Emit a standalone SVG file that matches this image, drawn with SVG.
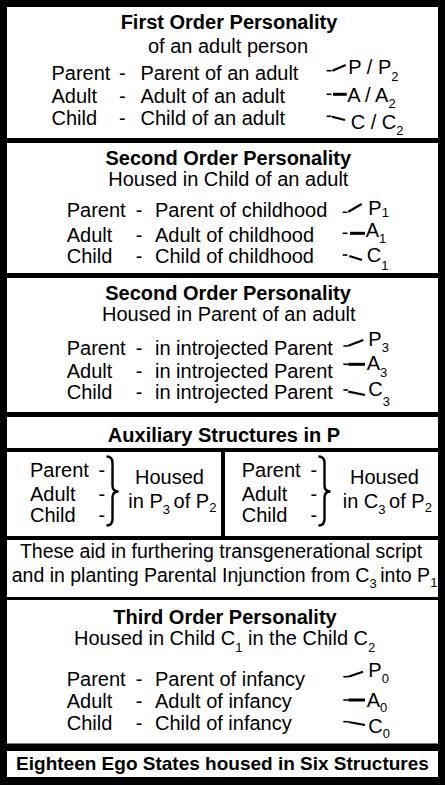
<svg xmlns="http://www.w3.org/2000/svg" width="445" height="785" viewBox="0 0 445 785">
<style>
text{font-family:"Liberation Sans",Arial,sans-serif;font-size:20px;fill:#000}
.b{font-weight:bold}
.m{text-anchor:middle}
.s{font-size:13px}
.box{fill:#fff}
.d{stroke:#000;stroke-width:1.6;fill:none}
.sl{stroke:#000;stroke-width:2.2;fill:none}
.th{stroke:#000;stroke-width:3;fill:none}
.br{stroke:#000;stroke-width:2.4;fill:none}
</style>
<rect x="0" y="0" width="445" height="785" fill="#000"/>

<g id="first-order">
<rect class="box" x="7" y="7" width="431" height="131"/>
<text class="b m" x="229" y="29">First Order Personality</text>
<text class="m" x="228" y="53">of an adult person</text>
<text x="51.5" y="80">Parent</text><text x="119" y="80">-</text><text x="140.5" y="80">Parent of an adult</text>
<text x="51.5" y="102.5">Adult</text><text x="119" y="102.5">-</text><text x="140.5" y="102.5">Adult of an adult</text>
<text x="51.5" y="124.5">Child</text><text x="119" y="124.5">-</text><text x="140.5" y="124.5">Child of an adult</text>
<g id="first-order-pointers">
<line class="d" x1="326.7" y1="70.7" x2="331.5" y2="70.7"/><line class="sl" x1="332.3" y1="70.7" x2="345.7" y2="65"/>
<line class="d" x1="326.7" y1="94.3" x2="331.5" y2="94.3"/><line class="th" x1="333" y1="94.3" x2="346.7" y2="94.3"/>
<line class="d" x1="326.7" y1="116.3" x2="331.5" y2="116.3"/><line class="sl" x1="332" y1="116.7" x2="345" y2="120"/>
</g>
<text x="348.3" y="74">P / P<tspan class="s" dy="7">2</tspan></text>
<text x="347.3" y="102">A / A<tspan class="s" dy="6">2</tspan></text>
<text x="350.7" y="128.5">C / C<tspan class="s" dy="6">2</tspan></text>
</g>

<g id="second-order-child">
<rect class="box" x="7" y="143" width="431" height="130"/>
<text class="b m" x="228.3" y="165">Second Order Personality</text>
<text class="m" x="228.3" y="186">Housed in Child of an adult</text>
<text x="66.7" y="217.3">Parent</text><text x="135.7" y="217.3">-</text><text x="155" y="217.3">Parent of childhood</text>
<text x="66.7" y="241.5">Adult</text><text x="135.7" y="241.5">-</text><text x="155" y="241.5">Adult of childhood</text>
<text x="66.7" y="263.3">Child</text><text x="135.7" y="263.3">-</text><text x="155" y="263.3">Child of childhood</text>
<g id="second-order-child-pointers">
<line class="d" x1="342.7" y1="212.3" x2="347.5" y2="212.3"/><line class="sl" x1="348.3" y1="211.7" x2="361.7" y2="204"/>
<line class="d" x1="342.7" y1="233.3" x2="347.5" y2="233.3"/><line class="th" x1="350" y1="233.3" x2="365" y2="233.3"/>
<line class="d" x1="342.7" y1="255" x2="347.5" y2="255"/><line class="sl" x1="349.3" y1="256" x2="362" y2="260"/>
</g>
<text x="368.3" y="215">P<tspan class="s" dy="2">1</tspan></text>
<text x="365.7" y="237.3">A<tspan class="s" dy="6">1</tspan></text>
<text x="366.7" y="261.7">C<tspan class="s" dy="8">1</tspan></text>
</g>

<g id="second-order-parent">
<rect class="box" x="7" y="278" width="431" height="134"/>
<text class="b m" x="228" y="300">Second Order Personality</text>
<text class="m" x="228.8" y="320.7">Housed in Parent of an adult</text>
<text x="66.7" y="355">Parent</text><text x="135.7" y="355">-</text><text x="155" y="355">in introjected Parent</text>
<text x="66.7" y="377.7">Adult</text><text x="135.7" y="377.7">-</text><text x="155" y="377.7">in introjected Parent</text>
<text x="66.7" y="399.3">Child</text><text x="135.7" y="399.3">-</text><text x="155" y="399.3">in introjected Parent</text>
<g id="second-order-parent-pointers">
<line class="d" x1="343.3" y1="346" x2="348" y2="346"/><line class="sl" x1="348.3" y1="345.7" x2="363.3" y2="340"/>
<line class="d" x1="343.3" y1="364.3" x2="348" y2="364.3"/><line class="th" x1="348.3" y1="364.3" x2="365" y2="364.3"/>
<line class="d" x1="343.3" y1="390" x2="348" y2="390"/><line class="sl" x1="348.3" y1="391.7" x2="365" y2="395"/>
</g>
<text x="368.3" y="346">P<tspan class="s" dy="6">3</tspan></text>
<text x="366.7" y="370">A<tspan class="s" dy="7">3</tspan></text>
<text x="368.3" y="395.7">C<tspan class="s" dy="10">3</tspan></text>
</g>

<g id="auxiliary-header">
<rect class="box" x="7" y="417" width="431" height="31"/>
<text class="b m" x="224" y="441.7">Auxiliary Structures in P</text>
</g>

<g id="auxiliary-p3">
<rect class="box" x="7" y="452" width="214" height="84"/>
<text x="30" y="477.3">Parent</text><text x="98.5" y="477.3">-</text>
<text x="30" y="500.5">Adult</text><text x="98.5" y="500.5">-</text>
<text x="30" y="522.3">Child</text><text x="98.5" y="522.3">-</text>
<path class="br" d="M106.5,456.5 Q112.5,456.5 112.5,463 L112.5,485.5 Q112.5,491.5 118.5,491.5 Q112.5,491.5 112.5,497.5 L112.5,519 Q112.5,525.5 106.5,525.5"/>
<text x="135" y="484.3">Housed</text>
<text x="128.3" y="507.7">in P<tspan class="s" dy="6.5">3 </tspan><tspan dy="-6.5">of P</tspan><tspan class="s" dy="4">2</tspan></text>
</g>

<g id="auxiliary-c3">
<rect class="box" x="225" y="452" width="213" height="84"/>
<text x="241.7" y="477.3">Parent</text><text x="310.5" y="477.3">-</text>
<text x="241.7" y="500.5">Adult</text><text x="310.5" y="500.5">-</text>
<text x="241.7" y="522.3">Child</text><text x="310.5" y="522.3">-</text>
<path class="br" d="M318.5,456.5 Q324.5,456.5 324.5,463 L324.5,485.5 Q324.5,491.5 330.5,491.5 Q324.5,491.5 324.5,497.5 L324.5,519 Q324.5,525.5 318.5,525.5"/>
<text x="350" y="484.3">Housed</text>
<text x="342.7" y="507.7">in C<tspan class="s" dy="6.5">3 </tspan><tspan dy="-6.5">of P</tspan><tspan class="s" dy="4">2</tspan></text>
</g>

<g id="auxiliary-note">
<rect class="box" x="7" y="540" width="431" height="57"/>
<text class="m" x="221" y="558.3" style="font-size:19.5px">These aid in furthering transgenerational script</text>
<text x="11.7" y="581.7" style="font-size:19.5px">and in planting Parental Injunction from C<tspan class="s" dy="6">3 </tspan><tspan dy="-6">into P</tspan><tspan class="s" dy="5">1</tspan></text>
</g>

<g id="third-order">
<rect class="box" x="7" y="600" width="431" height="143.5"/>
<text class="b m" x="225" y="624.3">Third Order Personality</text>
<text x="74" y="645">Housed in Child C<tspan class="s" dy="7">1</tspan><tspan dy="-7"> in the Child C</tspan><tspan class="s" dy="7">2</tspan></text>
<text x="66.7" y="685.7">Parent</text><text x="135.7" y="685.7">-</text><text x="155" y="685.7">Parent of infancy</text>
<text x="66.7" y="708.3">Adult</text><text x="135.7" y="708.3">-</text><text x="155" y="708.3">Adult of infancy</text>
<text x="66.7" y="730">Child</text><text x="135.7" y="730">-</text><text x="155" y="730">Child of infancy</text>
<g id="third-order-pointers">
<line class="d" x1="343.3" y1="676.7" x2="348" y2="676.7"/><line class="sl" x1="348.3" y1="676.7" x2="363" y2="671.7"/>
<line class="d" x1="343.3" y1="700" x2="348" y2="700"/><line class="th" x1="348.3" y1="700" x2="365" y2="700"/>
<line class="d" x1="343.3" y1="721.7" x2="348" y2="721.7"/><line class="sl" x1="348.3" y1="722" x2="365" y2="725"/>
</g>
<text x="368.3" y="676.7">P<tspan class="s" dy="6.5">0</tspan></text>
<text x="366.7" y="706.7">A<tspan class="s" dy="5">0</tspan></text>
<text x="368.3" y="733.3">C<tspan class="s" dy="5">0</tspan></text>
</g>

<g id="summary">
<rect class="box" x="7" y="751" width="431" height="26"/>
<text class="b m" x="222.5" y="770" style="font-size:19px">Eighteen Ego States housed in Six Structures</text>
</g>
</svg>
